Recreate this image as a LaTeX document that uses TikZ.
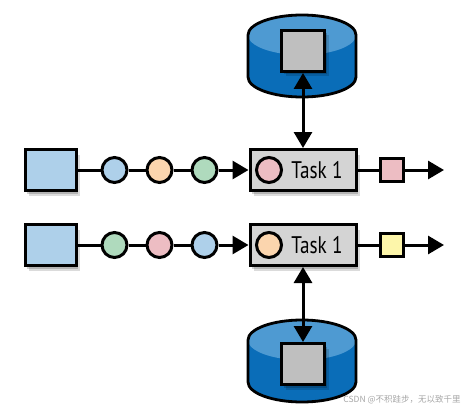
\documentclass[tikz,border=0pt]{standalone}
\usepackage{fontspec}
\setsansfont{PT Sans}
\newfontfamily\cjkfont{Noto Sans CJK SC}
\usetikzlibrary{arrows.meta, positioning, shadows}
\definecolor{evblue}{HTML}{AED0EA}
\definecolor{evorange}{HTML}{FBD5AE}
\definecolor{evgreen}{HTML}{AFDABD}
\definecolor{evpink}{HTML}{EDBDC3}
\definecolor{evyellow}{HTML}{FDF6AA}
\definecolor{diskdark}{HTML}{0A6DB8}
\definecolor{disklight}{HTML}{4E9AD2}
\begin{document}
\begin{tikzpicture}[
  x=1pt, y=-1pt,
  node distance = 17pt and 17pt,
  softshadow/.style = {drop shadow={shadow xshift=4pt, shadow yshift=-5pt,
                       fill=black, opacity=.14},
                       drop shadow={shadow xshift=2pt, shadow yshift=-3pt,
                       fill=black, opacity=.18}},
  src/.style    = {draw, line width=3pt, fill=evblue, minimum width=51pt,
                   minimum height=41pt, inner sep=0pt, softshadow},
  event/.style  = {circle, draw, line width=3pt, minimum size=25pt, inner sep=0pt},
  task/.style   = {draw, line width=3pt, fill=black!17, minimum width=106pt,
                   minimum height=41pt, inner sep=0pt, softshadow},
  taskname/.style = {font=\sffamily\fontsize{24}{24}\selectfont, xscale=.8, inner sep=0pt},
  outbox/.style = {draw, line width=3pt, minimum size=23pt, inner sep=0pt},
  store/.style  = {draw, line width=3pt, fill=black!25, minimum width=43pt,
                   minimum height=41pt, inner sep=0pt, softshadow},
  arr/.style    = {-{Triangle[length=16pt,width=18pt]}, line width=3pt},
  dbl/.style    = {{Triangle[length=16pt,width=18pt]}-{Triangle[length=16pt,width=18pt]}, line width=3pt},
  lin/.style    = {line width=3pt},
  disk/.pic     = {
    \fill[diskdark] (-54,-21) arc[start angle=180, end angle=360, x radius=54, y radius=20]
      -- (54,21) arc[start angle=0, end angle=180, x radius=54, y radius=20] -- cycle;
    \fill[disklight] (0,-21) ellipse[x radius=54, y radius=20];
    \draw[line width=2.8pt] (-54,-21) arc[start angle=180, end angle=360, x radius=54, y radius=20]
      -- (54,21) arc[start angle=0, end angle=180, x radius=54, y radius=20] -- cycle;
  }
]
\useasboundingbox (0,0) rectangle (474,412);

% Storage
\pic at (302,56) {disk};
\pic at (302,361) {disk};
\node[store] (topst) at (303,51) {};
\node[store] (botst) at (303,364) {};

% First stream
\node[src] (srca) at (50.5,170) {};
\node[event, fill=evblue, right=23pt of srca] (ea) {};
\node[event, fill=evorange, right=of ea] (eb) {};
\node[event, fill=evgreen, right=of eb] (ec) {};
\node[task] (taska) at (303,170) {};
\node[event, fill=evpink] (ca) at (269,170) {};
\node[taskname] (na) at (317,170) {Task 1};
\node[outbox, fill=evpink, right=21pt of taska] (oa) {};
\coordinate (enda) at (444,170);

% Second stream
\node[src] (srcb) at (50.5,245) {};
\node[event, fill=evgreen, right=23pt of srcb] (fa) {};
\node[event, fill=evpink, right=of fa] (fb) {};
\node[event, fill=evblue, right=of fb] (fc) {};
\node[task] (taskb) at (303,245) {};
\node[event, fill=evorange] (cb) at (269,245) {};
\node[taskname] (nb) at (317,245) {Task 1};
\node[outbox, fill=evyellow, right=21pt of taskb] (ob) {};
\coordinate (endb) at (444,245);

% Arrows
\draw[lin] (srca) -- (ea);
\draw[lin] (ea) -- (eb);
\draw[lin] (eb) -- (ec);
\draw[arr] (ec) -- (taska);
\draw[lin] (taska) -- (oa);
\draw[arr] (oa) -- (enda);
\draw[lin] (srcb) -- (fa);
\draw[lin] (fa) -- (fb);
\draw[lin] (fb) -- (fc);
\draw[arr] (fc) -- (taskb);
\draw[lin] (taskb) -- (ob);
\draw[arr] (ob) -- (endb);
\draw[dbl] (topst) -- (taska);
\draw[dbl] (taskb) -- (botst);

% Watermark
\node[font=\cjkfont\fontsize{8.5}{8.5}\selectfont, text=black!35, inner sep=0pt] (mark) at (402,400) {CSDN @不积跬步，无以致千里};
\end{tikzpicture}
\end{document}
